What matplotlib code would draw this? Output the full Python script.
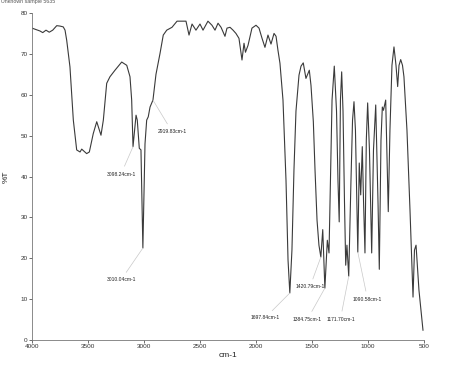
import matplotlib
matplotlib.use('Agg')
import matplotlib.pyplot as plt

plt.rcParams['font.family'] = ['Liberation Sans', 'DejaVu Sans']

# spectrum: wavenumber (cm-1) and %T
wn = [4000, 3929, 3904, 3875, 3846, 3815, 3779, 3750, 3721, 3705, 3690, 3661, 3646, 3631,
      3601, 3571, 3556, 3512, 3488, 3453, 3422, 3384, 3363, 3333, 3304, 3259, 3199, 3154,
      3125, 3110, 3098, 3071, 3060, 3042, 3027, 3010, 2991, 2976, 2962, 2946, 2920, 2893,
      2857, 2828, 2797, 2750, 2705, 2625, 2598, 2571, 2536, 2500, 2473, 2429, 2393, 2366,
      2339, 2312, 2277, 2259, 2232, 2205, 2179, 2152, 2125, 2107, 2094, 2071, 2036, 2000,
      1973, 1946, 1920, 1893, 1866, 1839, 1821, 1804, 1786, 1759, 1732, 1714, 1698, 1679,
      1661, 1643, 1616, 1598, 1578, 1554, 1524, 1509, 1488, 1473, 1455, 1438, 1421, 1404,
      1385, 1363, 1348, 1335, 1321, 1301, 1281, 1268, 1257, 1246, 1235, 1223, 1210, 1199,
      1188, 1172, 1152, 1138, 1125, 1112, 1098, 1091, 1078, 1065, 1051, 1040, 1027, 1015,
      1003, 987, 967, 951, 931, 918, 910, 899, 884, 872, 862, 842, 830, 819, 804, 786, 768,
      750, 735, 723, 708, 692, 679, 652, 625, 598, 585, 571, 545, 509]
trans = [76.3, 75.6, 75.2, 75.8, 75.3, 75.8, 76.9, 76.8, 76.6, 75.8, 73.3, 66.8, 60.3, 53.8,
         46.5, 46.0, 46.7, 45.6, 46.0, 50.5, 53.4, 50.1, 53.8, 62.8, 64.4, 66.0, 68.0, 67.2,
         64.4, 58.7, 47.3, 55.0, 53.8, 46.9, 46.5, 22.5, 48.0, 53.8, 54.6, 57.0, 58.7, 65.0,
         70.1, 74.6, 75.8, 76.5, 78.0, 78.0, 74.6, 77.3, 75.8, 77.3, 75.8, 78.0, 77.0, 75.8,
         77.5, 76.5, 74.3, 76.3, 76.5, 75.8, 75.0, 73.8, 68.5, 72.6, 70.4, 72.1, 76.3, 77.0,
         76.3, 73.8, 71.6, 74.6, 72.4, 75.0, 74.3, 70.9, 67.7, 58.7, 39.0, 19.6, 11.5, 22.0,
         41.6, 56.0, 64.8, 67.0, 67.8, 64.0, 66.0, 62.3, 53.4, 41.6, 29.3, 23.2, 20.3, 27.0,
         12.7, 24.4, 21.3, 39.0, 58.7, 67.0, 56.0, 39.0, 28.9, 58.7, 65.6, 56.0, 34.0, 18.3,
         23.2, 15.6, 39.0, 53.8, 58.3, 51.3, 31.8, 21.5, 43.3, 35.5, 47.3, 34.2, 21.3, 48.9,
         58.0, 46.5, 21.3, 46.5, 57.5, 42.0, 33.0, 17.3, 48.9, 57.0, 56.2, 58.7, 44.0, 31.4,
         51.3, 67.2, 71.7, 67.2, 62.0, 67.2, 68.6, 67.2, 64.4, 51.3, 31.8, 10.5, 22.0, 23.2,
         12.2, 2.4]

# peak labels: peak position, peak %T, label position
peak_txt = ['3098.24cm-1', '3010.04cm-1', '2919.83cm-1', '1697.84cm-1',
            '1420.79cm-1', '1384.75cm-1', '1171.70cm-1', '1090.58cm-1']
peak_x = [3098, 3010, 2920, 1698, 1421, 1385, 1172, 1091]
peak_y = [47.3, 22.5, 58.7, 11.5, 20.3, 12.7, 15.6, 21.5]
lab_x = [3205, 3205, 2750, 1920, 1518, 1540, 1246, 1004]
lab_y = [40.6, 14.7, 51.0, 5.4, 13.0, 5.1, 5.1, 10.0]

xticks = [4000, 3500, 3000, 2500, 2000, 1500, 1000, 500]
yticks = [0, 10, 20, 30, 40, 50, 60, 70, 80]

fig = plt.figure(figsize=(4.74, 3.66), dpi=100)
ax = fig.add_axes([0.0675, 0.071, 0.827, 0.8935])

ax.plot(wn, trans, color='#3a3a3a', lw=0.8)

for t, px, py, lx, ly in zip(peak_txt, peak_x, peak_y, lab_x, lab_y):
    ax.annotate(t, xy=(px, py), xytext=(lx, ly), fontsize=3.6, color='#222222',
                ha='center', va='center',
                arrowprops=dict(arrowstyle='-', color='#c8c8c8', lw=0.5,
                                shrinkA=2, shrinkB=0))

ax.set_xlim(4000, 500)
ax.set_ylim(0, 80)
ax.set_xticks(xticks)
ax.set_yticks(yticks)
ax.tick_params(labelsize=4.6, length=2, width=0.5, colors='#333333', pad=1)
for s in ['top', 'right']:
    ax.spines[s].set_visible(False)
for s in ['left', 'bottom']:
    ax.spines[s].set_color('#777777')
    ax.spines[s].set_linewidth(0.6)

ax.set_xlabel('cm-1', fontsize=6, color='#222222', labelpad=2)
ax.set_ylabel('%T', fontsize=6, color='#222222', labelpad=8)

fig.text(0.002, 0.995, 'Unknown sample 5635', fontsize=3.8, color='#555555',
         ha='left', va='center')

fig.savefig('out.png', dpi=100, facecolor='white')
